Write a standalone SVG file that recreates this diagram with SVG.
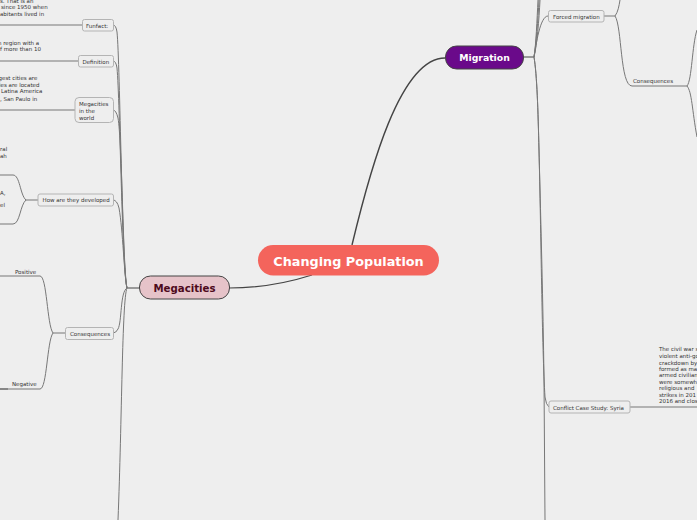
<svg xmlns="http://www.w3.org/2000/svg" width="697" height="520" viewBox="0 0 697 520">
<style>
text{font-family:"DejaVu Sans",Verdana,sans-serif}
.n{font-size:5.500px;fill:#333}
.b{fill:#eeeeee;stroke:#b4b4b4;stroke-width:1}
.c{fill:none;stroke:#777;stroke-width:1}
.d{fill:none;stroke:#444;stroke-width:1.200}
</style>
<rect width="697" height="520" fill="#eeeeee"/>
<g id="connectors">
<path class="d" d="M229 288C265 288 290 282 312 275"/>
<path fill="none" stroke="#444" stroke-width="1.400" d="M352 245C370 170 400 58 445 58"/>
<path class="d" d="M127 288H139M523 57H534"/>
<path class="c" d="M127 288C122 270 120 60 117 32Q116 25 113 25"/>
<path class="c" d="M127 288C122 270 120 100 117 68Q116 61 113 61"/>
<path class="c" d="M127 288C123 270 122 140 118 118Q116 110 113 110"/>
<path class="c" d="M127 288C124 275 123 230 119 208Q117 200 113 200"/>
<path class="c" d="M127 288C120 292 122 322 118 329Q116 333 113 333"/>
<path class="c" d="M127 288C122 300 122 420 118 520"/>
<path class="c" d="M0 25H82M0 61H78M0 110H75"/>
<path class="c" d="M38 200H26M26 200C20 195 20 175 13 175H0M26 200C20 205 20 224 13 224H0"/>
<path class="c" d="M65 333H53M53 333C47 325 47 276 40 276H0M53 333C47 341 47 389 40 389H8"/>
<path class="d" d="M0 389H8"/>
<path class="c" d="M534 57C537 45 539 20 540 0M534 57C536 45 538 20 539 0M534 57C536 45 537 20 538 0"/>
<path class="c" d="M534 57C536 45 540 16 548 16"/>
<path class="c" d="M534 57C537 75 538 110 539 150C541 230 543 300 544 380L545 520"/>
<path class="c" d="M534 57C537 75 538 110 539 150C541 230 542 350 545 397Q546 405 549 407"/>
<path class="c" d="M604 16H615M615 16C618 12 619 6 620 0M615 16C622 26 620 86 632 86H687M687 86C692 80 692 45 697 30M687 86C692 92 692 110 697 137"/>
<path class="c" d="M630 407H697"/>
</g>
<g id="root"><rect x="258" y="245" width="181" height="30.500" rx="15.200" fill="#f4645c"/><text x="348.500" y="266" text-anchor="middle" font-size="12.800" font-weight="700" fill="#fff">Changing Population</text></g>
<g id="megacities"><rect x="139.500" y="276" width="90" height="23" rx="11" fill="#e6c3c9" stroke="#444"/><text x="184.500" y="292" text-anchor="middle" font-size="10.200" font-weight="700" fill="#4d0a1c">Megacities</text></g>
<g id="migration"><rect x="445.500" y="46" width="78" height="23" rx="11" fill="#6a0a8a" stroke="#444"/><text x="484.500" y="61" text-anchor="middle" font-size="9.300" font-weight="700" fill="#fff">Migration</text></g>
<g id="funfact"><rect class="b" x="82.500" y="19.500" width="31" height="11.500" rx="2"/><text class="n" x="86" y="27.500">Funfact:</text></g>
<g id="definition"><rect class="b" x="78.500" y="55.500" width="35" height="11.500" rx="2"/><text class="n" x="82.500" y="63.500">Definition</text></g>
<g id="megacities-world"><rect class="b" x="75" y="97.500" width="38.500" height="25" rx="4"/><text class="n" x="79" y="106">Megacities</text><text class="n" x="79" y="113">in the</text><text class="n" x="79" y="119.500">world</text></g>
<g id="developed"><rect class="b" x="38" y="194" width="75.500" height="12" rx="2"/><text class="n" x="42.500" y="202">How are they developed</text></g>
<g id="consequences-left"><rect class="b" x="65.500" y="327.500" width="48" height="12" rx="2"/><text class="n" x="70" y="335.500">Consequences</text></g>
<g id="positive"><text class="n" x="15" y="273.500">Positive</text></g>
<g id="negative"><text class="n" x="12" y="385.500">Negative</text></g>
<g id="forced"><rect class="b" x="548.500" y="10.500" width="55.500" height="11.500" rx="2"/><text class="n" x="553" y="18.500">Forced migration</text></g>
<g id="consequences-right"><text class="n" x="633" y="82.500">Consequences</text></g>
<g id="conflict"><rect class="b" x="549" y="401" width="81" height="12" rx="2"/><text class="n" x="553" y="409.500">Conflict Case Study: Syria</text></g>
<g id="notes">
<text class="n" x="0" y="3">s. That is an</text>
<text class="n" x="1" y="9">since 1950 when</text>
<text class="n" x="0" y="15.500">abitants lived in</text>
<text class="n" x="-2" y="45">n region with a</text>
<text class="n" x="0" y="51">f more than 10</text>
<text class="n" x="-1.500" y="80">gest cities are</text>
<text class="n" x="-1" y="86.500">ies are located</text>
<text class="n" x="1" y="93">Latina America</text>
<text class="n" x="0" y="100.500">, San Paulo in</text>
<text class="n" x="0" y="151">ral</text>
<text class="n" x="0" y="158">ah</text>
<text class="n" x="0" y="195">A,</text>
<text class="n" x="0" y="207">el</text>
<text class="n" x="659" y="351">The civil war s</text>
<text class="n" x="659" y="358">violent anti-go</text>
<text class="n" x="659" y="364.500">crackdown by</text>
<text class="n" x="659" y="371">formed as ma</text>
<text class="n" x="659" y="377">armed civilian</text>
<text class="n" x="659" y="383.500">were somewha</text>
<text class="n" x="659" y="390">religious and</text>
<text class="n" x="659" y="396.500">strikes in 201</text>
<text class="n" x="659" y="403">2016 and clos</text>
</g>
</svg>
